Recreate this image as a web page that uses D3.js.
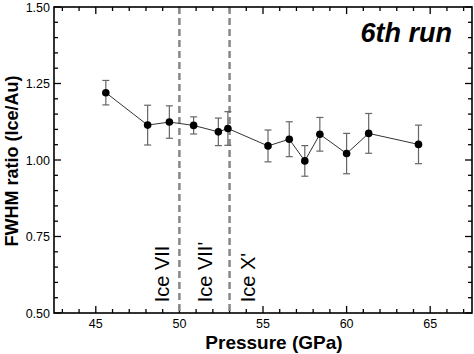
<!DOCTYPE html>
<html>
<head>
<meta charset="utf-8">
<script src="https://cdn.jsdelivr.net/npm/d3@7"></script>
<style>
  body { margin: 0; background: #fff; }
  text { font-family: "Liberation Sans", Arial, sans-serif; }
</style>
</head>
<body>
<div id="chart"></div>
<script>
// pressure (GPa), FWHM ratio and error
const pressure = [45.6, 48.1, 49.4, 50.85, 52.33, 52.9, 55.3, 56.57, 57.5, 58.4, 60.0, 61.32, 64.3];
const ratio    = [1.220, 1.114, 1.124, 1.113, 1.092, 1.103, 1.046, 1.068, 0.997, 1.084, 1.021, 1.087, 1.051];
const ratioErr = [0.040, 0.065, 0.053, 0.028, 0.045, 0.055, 0.052, 0.057, 0.050, 0.055, 0.066, 0.065, 0.063];

// phase boundaries and labels
const boundaries = [50, 53];
const phaseLabels = ["Ice VII", "Ice VII'", "Ice X'"];
const phaseLabelX = [49.35, 51.95, 54.52];

const xTicks = [45, 50, 55, 60, 65];
const yTicks = [0.50, 0.75, 1.00, 1.25, 1.50];

const width = 474, height = 354;
const margin = {top: 7, right: 2, bottom: 41, left: 54};

const svg = d3.select("#chart").append("svg")
    .attr("width", width)
    .attr("height", height);

const x = d3.scaleLinear().domain([42.5, 67.5]).range([margin.left, width - margin.right]);
const y = d3.scaleLinear().domain([0.5, 1.5]).range([height - margin.bottom, margin.top]);

const x0 = x.range()[0], x1 = x.range()[1];
const y0 = y.range()[0], y1 = y.range()[1];

// minor ticks
const xMinor = d3.range(43, 68, 1).filter(v => v % 5 !== 0);
const yMinor = d3.range(0.55, 1.5, 0.05).filter(v => Math.abs(v * 4 - Math.round(v * 4)) > 1e-6);

function tickMarks(g, vals, len, horizontal) {
    vals.forEach(v => {
        if (horizontal) {
            g.append("line").attr("x1", x(v)).attr("x2", x(v)).attr("y1", y0).attr("y2", y0 - len);
            g.append("line").attr("x1", x(v)).attr("x2", x(v)).attr("y1", y1).attr("y2", y1 + len);
        } else {
            g.append("line").attr("y1", y(v)).attr("y2", y(v)).attr("x1", x0).attr("x2", x0 + len);
            g.append("line").attr("y1", y(v)).attr("y2", y(v)).attr("x1", x1).attr("x2", x1 - len);
        }
    });
}

const ticks = svg.append("g").attr("stroke", "#000").attr("stroke-width", 1.3);
tickMarks(ticks, xTicks, 7, true);
tickMarks(ticks, xMinor, 4, true);
tickMarks(ticks, yTicks, 7, false);
tickMarks(ticks, yMinor, 4, false);

// dashed phase boundaries
svg.append("g").selectAll("line")
    .data(boundaries)
    .join("line")
    .attr("x1", d => x(d)).attr("x2", d => x(d))
    .attr("y1", y1).attr("y2", y0)
    .attr("stroke", "#888")
    .attr("stroke-width", 2.5)
    .attr("stroke-dasharray", "7,4");

// phase labels
svg.append("g").selectAll("text")
    .data(phaseLabels)
    .join("text")
    .attr("transform", (d, i) => `translate(${x(phaseLabelX[i])},${y(0.535)}) rotate(-90)`)
    .attr("font-size", 20)
    .attr("fill", "#000")
    .text(d => d);

// frame
svg.append("rect")
    .attr("x", x0).attr("y", y1)
    .attr("width", x1 - x0).attr("height", y0 - y1)
    .attr("fill", "none")
    .attr("stroke", "#000")
    .attr("stroke-width", 1.6);

// tick labels
svg.append("g").selectAll("text")
    .data(xTicks)
    .join("text")
    .attr("x", d => x(d))
    .attr("y", y0 + 15)
    .attr("text-anchor", "middle")
    .attr("font-size", 12.5)
    .text(d => d);

svg.append("g").selectAll("text")
    .data(yTicks)
    .join("text")
    .attr("x", x0 - 4)
    .attr("y", d => y(d) + 4.5)
    .attr("text-anchor", "end")
    .attr("font-size", 12.5)
    .text(d => d.toFixed(2));

// axis titles
svg.append("text")
    .attr("x", 274)
    .attr("y", 349)
    .attr("text-anchor", "middle")
    .attr("font-size", 19)
    .attr("font-weight", "bold")
    .text("Pressure (GPa)");

svg.append("text")
    .attr("transform", `translate(18,161) rotate(-90)`)
    .attr("text-anchor", "middle")
    .attr("font-size", 18)
    .attr("font-weight", "bold")
    .text("FWHM ratio (Ice/Au)");

svg.append("text")
    .attr("x", 452)
    .attr("y", 42)
    .attr("text-anchor", "end")
    .attr("font-size", 27)
    .attr("font-weight", "bold")
    .attr("font-style", "italic")
    .text("6th run");

// data
const pts = pressure.map((p, i) => ({p: p, r: ratio[i], e: ratioErr[i]}));

svg.append("path")
    .datum(pts)
    .attr("fill", "none")
    .attr("stroke", "#333")
    .attr("stroke-width", 1)
    .attr("d", d3.line().x(d => x(d.p)).y(d => y(d.r)));

const err = svg.append("g").attr("stroke", "#666").attr("stroke-width", 1.2);
pts.forEach(d => {
    err.append("line").attr("x1", x(d.p)).attr("x2", x(d.p)).attr("y1", y(d.r - d.e)).attr("y2", y(d.r + d.e));
    err.append("line").attr("x1", x(d.p) - 3.5).attr("x2", x(d.p) + 3.5).attr("y1", y(d.r - d.e)).attr("y2", y(d.r - d.e));
    err.append("line").attr("x1", x(d.p) - 3.5).attr("x2", x(d.p) + 3.5).attr("y1", y(d.r + d.e)).attr("y2", y(d.r + d.e));
});

svg.append("g").selectAll("circle")
    .data(pts)
    .join("circle")
    .attr("cx", d => x(d.p))
    .attr("cy", d => y(d.r))
    .attr("r", 3.8)
    .attr("fill", "#000");
</script>
</body>
</html>
